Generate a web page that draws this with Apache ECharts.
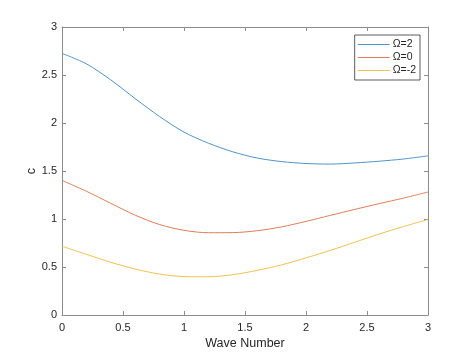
<!DOCTYPE html>
<html><head><meta charset="utf-8">
<script src="https://cdn.jsdelivr.net/npm/echarts@6/dist/echarts.min.js"></script>
<style>html,body{margin:0;padding:0;background:#fff}#c{width:474px;height:355px}</style>
</head><body><div id="c"></div>
<script>
const waveNumbers = [0, 0.2, 0.4, 0.6, 0.8, 1.0, 1.2, 1.4, 1.6, 1.8, 2.0, 2.2, 2.4, 2.6, 2.8, 3.0];
const omegaPos2 = [2.725, 2.616, 2.449, 2.254, 2.067, 1.905, 1.79, 1.70, 1.635, 1.598, 1.578, 1.572, 1.584, 1.602, 1.625, 1.658];
const omega0 = [1.402, 1.289, 1.163, 1.04, 0.942, 0.882, 0.857, 0.858, 0.878, 0.918, 0.975, 1.038, 1.10, 1.16, 1.218, 1.281];
const omegaNeg2 = [0.717, 0.632, 0.549, 0.479, 0.426, 0.40, 0.398, 0.42, 0.465, 0.522, 0.595, 0.673, 0.758, 0.843, 0.922, 0.994];
const seriesNames = ['\u03A9=2', '\u03A9=0', '\u03A9=-2'];
const xTicks = [0, 0.5, 1, 1.5, 2, 2.5, 3];
const yTicks = [0, 0.5, 1, 1.5, 2, 2.5, 3];

const colors = ['#4f93c9', '#dc7d58', '#efc250'];
const pair = arr => waveNumbers.map((x, i) => [x, arr[i]]);
const axisCol = '#8c8c8c';
const labCol = '#262626';
const font = 'Liberation Sans, Arial, sans-serif';

const chart = echarts.init(document.getElementById('c'));
const tickCfg = {show: true, inside: true, length: 4, lineStyle: {color: axisCol}};
const lineCfg = {show: true, onZero: false, lineStyle: {color: axisCol, width: 1}};
chart.setOption({
  animation: false,
  grid: {left: 62, right: 46, top: 27, bottom: 39},
  legend: {
    right: 54, top: 35, orient: 'vertical',
    data: seriesNames.map(n => ({name: n, icon: 'rect'})),
    itemWidth: 32, itemHeight: 1, itemGap: 0,
    backgroundColor: '#fff', borderColor: '#333', borderWidth: 0.8, borderRadius: 0,
    padding: [3, 4, 3, 3],
    textStyle: {fontSize: 10.5, color: labCol, fontFamily: font, lineHeight: 13, padding: [0, 0, 0, -2]}
  },
  xAxis: [
    {
      type: 'value', min: 0, max: 3, interval: 0.5, position: 'bottom',
      axisLine: lineCfg, axisTick: tickCfg, splitLine: {show: false},
      name: 'Wave Number', nameLocation: 'middle', nameGap: 22, nameMoveOverlap: false,
      nameTextStyle: {fontSize: 12.5, color: labCol, fontFamily: font},
      axisLabel: {fontSize: 11, color: labCol, fontFamily: font, margin: 7, formatter: v => xTicks.includes(v) ? String(v) : ''}
    },
    {
      type: 'value', min: 0, max: 3, interval: 0.5, position: 'top',
      axisLine: lineCfg, axisTick: tickCfg, splitLine: {show: false}, axisLabel: {show: false}
    }
  ],
  yAxis: [
    {
      type: 'value', min: 0, max: 3, interval: 0.5, position: 'left',
      axisLine: lineCfg, axisTick: tickCfg, splitLine: {show: false},
      name: 'c', nameLocation: 'middle', nameGap: 24, nameMoveOverlap: false,
      nameTextStyle: {fontSize: 12.5, color: labCol, fontFamily: font},
      axisLabel: {fontSize: 11, color: labCol, fontFamily: font, margin: 5, formatter: v => yTicks.includes(v) ? String(v) : ''}
    },
    {
      type: 'value', min: 0, max: 3, interval: 0.5, position: 'right',
      axisLine: lineCfg, axisTick: tickCfg, splitLine: {show: false}, axisLabel: {show: false}
    }
  ],
  series: [omegaPos2, omega0, omegaNeg2].map((arr, i) => ({
    name: seriesNames[i], type: 'line', data: pair(arr), smooth: 0.3,
    xAxisIndex: 0, yAxisIndex: 0,
    symbol: 'none', lineStyle: {color: colors[i], width: 1}, itemStyle: {color: colors[i]}
  }))
});
</script></body></html>
